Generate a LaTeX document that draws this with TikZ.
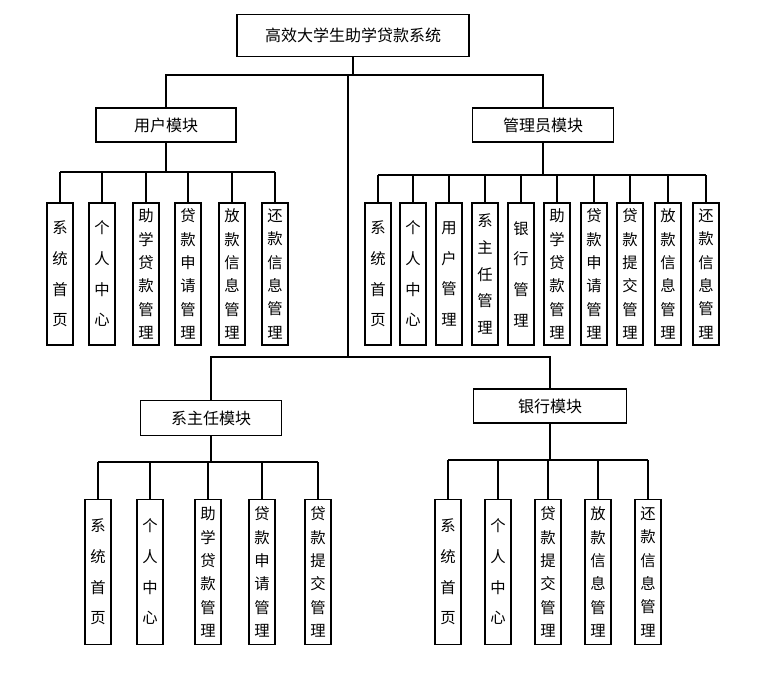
\documentclass[tikz,border=0pt]{standalone}
\usepackage{fontspec}
\newfontfamily\cjk{Noto Sans CJK SC}
\begin{document}
\begin{tikzpicture}[x=0.75pt,y=-0.75pt,
  box/.style={draw,thick,inner sep=0pt,font=\cjk\fontsize{12}{14}\selectfont},
  leaf/.style={draw,thick,inner sep=0pt,minimum width=19.5pt,align=center},
  c4/.style={leaf,font=\cjk\fontsize{11.5}{23}\selectfont},
  c5/.style={leaf,font=\cjk\fontsize{11.5}{20}\selectfont},
  c6/.style={leaf,font=\cjk\fontsize{11.5}{17.5}\selectfont},
  ln/.style={thick}]
\useasboundingbox (0,0) rectangle (770,694);
\node[box,minimum width=174pt,minimum height=32pt] (root) at (353,35.5) {高效大学生助学贷款系统};
\node[box,minimum width=105pt,minimum height=25.5pt] (user) at (166,125) {用户模块};
\node[box,minimum width=106pt,minimum height=25.5pt] (admin) at (543,125) {管理员模块};
\node[box,minimum width=106pt,minimum height=26pt] (dir) at (211,418) {系主任模块};
\node[box,minimum width=115pt,minimum height=25.5pt] (bank) at (550,406) {银行模块};
% root connections
\coordinate (r1) at (348,75); \coordinate (r2) at (348,357);
\draw[ln] (root.south) -- (root.south|-r1);
\draw[ln] (user.north) |- (admin.north|-r1) -- (admin.north);
\draw[ln] (r1) -- (r2);
\draw[ln] (dir.north) |- (bank.north|-r2) -- (bank.north);
% user leaves
\foreach \n/\x/\t/\s in {u1/60/系\\统\\首\\页/c4, u2/102/个\\人\\中\\心/c4, u3/146/助\\学\\贷\\款\\管\\理/c6, u4/188/贷\\款\\申\\请\\管\\理/c6, u5/232/放\\款\\信\\息\\管\\理/c6, u6/275/还\\款\\信\\息\\管\\理/c6}{
  \node[\s,minimum height=106.5pt] (\n) at (\x,274) {\t};
  \draw[ln] (\n.north) -- (\x,172);}
\draw[ln] (60,172) -- (275,172); \draw[ln] (user.south) -- (166,172);
% admin leaves
\foreach \n/\x/\t/\s in {a1/378/系\\统\\首\\页/c4, a2/413/个\\人\\中\\心/c4, a3/449/用\\户\\管\\理/c4, a4/485/系\\主\\任\\管\\理/c5, a5/521/银\\行\\管\\理/c4, a6/557/助\\学\\贷\\款\\管\\理/c6, a7/594/贷\\款\\申\\请\\管\\理/c6, a8/630/贷\\款\\提\\交\\管\\理/c6, a9/668/放\\款\\信\\息\\管\\理/c6, a10/706/还\\款\\信\\息\\管\\理/c6}{
  \node[\s,minimum height=106.5pt] (\n) at (\x,274) {\t};
  \draw[ln] (\n.north) -- (\x,175);}
\draw[ln] (378,175) -- (706,175); \draw[ln] (admin.south) -- (543,175);
% director leaves
\foreach \n/\x/\t/\s in {d1/98/系\\统\\首\\页/c4, d2/150/个\\人\\中\\心/c4, d3/208/助\\学\\贷\\款\\管\\理/c6, d4/262/贷\\款\\申\\请\\管\\理/c6, d5/318/贷\\款\\提\\交\\管\\理/c6}{
  \node[\s,minimum height=109pt] (\n) at (\x,572) {\t};
  \draw[ln] (\n.north) -- (\x,462);}
\draw[ln] (98,462) -- (318,462); \draw[ln] (dir.south) -- (211,462);
% bank leaves
\foreach \n/\x/\t/\s in {b1/448/系\\统\\首\\页/c4, b2/498/个\\人\\中\\心/c4, b3/548/贷\\款\\提\\交\\管\\理/c6, b4/598/放\\款\\信\\息\\管\\理/c6, b5/648/还\\款\\信\\息\\管\\理/c6}{
  \node[\s,minimum height=109pt] (\n) at (\x,572) {\t};
  \draw[ln] (\n.north) -- (\x,460);}
\draw[ln] (448,460) -- (648,460); \draw[ln] (bank.south) -- (550,460);
\end{tikzpicture}
\end{document}
